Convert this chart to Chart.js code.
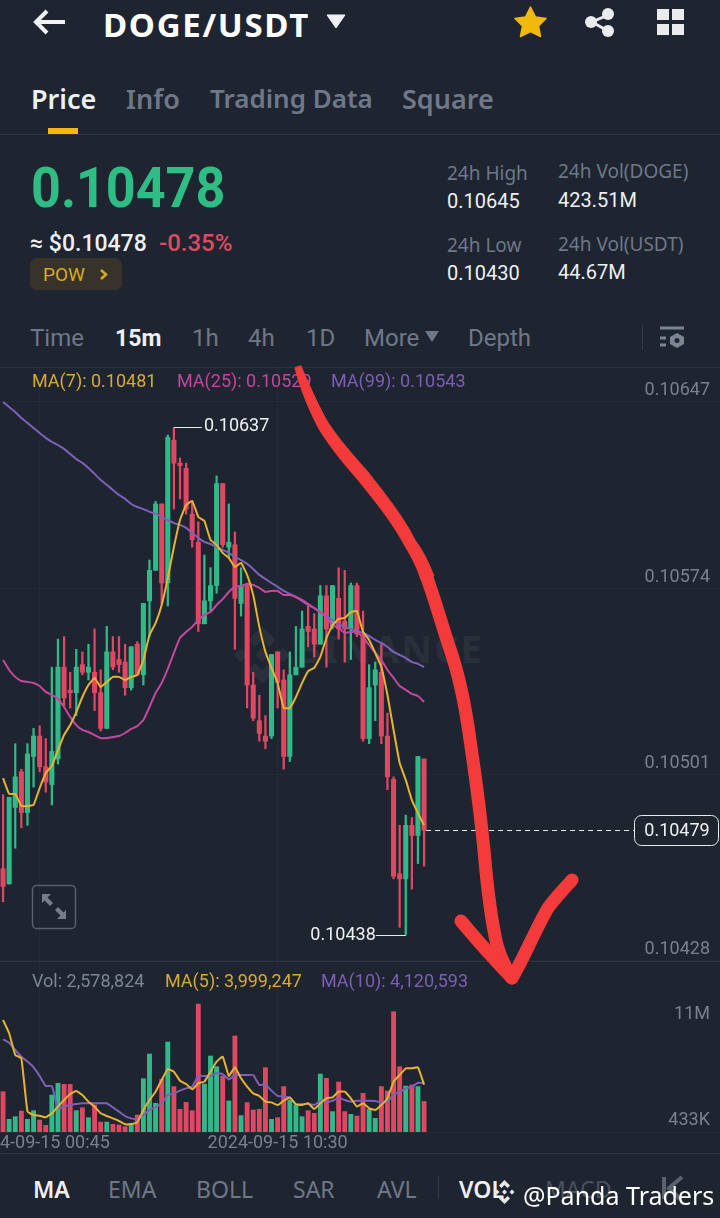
<!DOCTYPE html>
<html>
<head>
<meta charset="utf-8">
<title>DOGE/USDT</title>
<script src="https://cdn.jsdelivr.net/npm/chart.js@4/dist/chart.umd.min.js"></script>
<style>
  html, body { margin: 0; padding: 0; background: #1e2530; }
  #page { position: relative; width: 720px; height: 1218px; overflow: hidden; background: #1e2530; font-family: Roboto, sans-serif; }
  .t { position: absolute; white-space: nowrap; line-height: 1; transform: translateY(-50%); }
  .ui { font-family: "Noto Sans", sans-serif; }
  .line { position: absolute; left: 0; width: 720px; height: 1px; background: #2e343e; }
  .gray { color: #6f7888; }
  .white { color: #eef0f3; }
  #priceBox, #volumeBox { position: absolute; left: 0; width: 720px; }
  #priceBox { top: 367px; height: 594px; }
  #volumeBox { top: 961px; height: 193px; }
  #mark { position: absolute; left: 296px; top: 648px; color: #2a303b; font: 700 38px "Noto Sans", sans-serif; letter-spacing: 2px; transform: translateY(-50%); line-height: 1; }
  svg { position: absolute; overflow: visible; }
</style>
</head>
<body>
<div id="page">

  <!-- top bar -->
  <svg style="left:0;top:0" width="720" height="60">
    <path d="M37 22H65M47 11L36 22L47 33" fill="none" stroke="#f1f2f4" stroke-width="4"/>
    <path d="M327 15H345L336 28Z" fill="#eef0f3" stroke="#eef0f3" stroke-width="1" stroke-linejoin="round"/>
    <path d="M530.500 7L535.500 17L546 18.500L538.500 26L540.500 36.500L530.500 31.500L520.500 36.500L522.500 26L515 18.500L525.500 17Z" fill="#f0b90b" stroke="#f0b90b" stroke-width="1.500" stroke-linejoin="round"/>
    <path d="M608 15L592 22L608 31" fill="none" stroke="#e9ebef" stroke-width="3"/>
    <circle cx="608" cy="14" r="6" fill="#e9ebef"/><circle cx="591" cy="22" r="6" fill="#e9ebef"/><circle cx="608" cy="31" r="6" fill="#e9ebef"/>
    <path d="M657 9H669V20H657ZM672 9H684V20H672ZM657 24H669V35H657ZM672 24H684V35H672Z" fill="#e9ebef"/>
  </svg>
  <div class="t ui" style="left:103px;top:24px;font-size:33px;font-weight:700;letter-spacing:1.700px;color:#fff">DOGE/USDT</div>

  <!-- tabs -->
  <div class="t ui white" style="left:31px;top:98px;font-size:27px;font-weight:600">Price</div>
  <div class="t ui gray" style="left:126px;top:98px;font-size:27px;font-weight:600">Info</div>
  <div class="t ui gray" style="left:210px;top:98px;font-size:26px;font-weight:600">Trading Data</div>
  <div class="t ui gray" style="left:402px;top:98px;font-size:27px;font-weight:600">Square</div>
  <div style="position:absolute;left:48px;top:128px;width:30px;height:6px;background:#f0b90b"></div>
  <div class="line" style="top:134px"></div>

  <!-- quote block -->
  <div class="t" style="left:31px;top:188px;font-size:56px;font-weight:700;color:#2ebd85;transform:translateY(-50%) scaleX(0.93);transform-origin:left center">0.10478</div>
  <div class="t white" style="left:30px;top:243px;font-size:23px;font-weight:500">≈ $0.10478</div>
  <div class="t" style="left:159px;top:243px;font-size:24px;font-weight:500;color:#df4a63">-0.35%</div>
  <div style="position:absolute;left:30px;top:258px;width:92px;height:32px;border-radius:7px;background:#37332b"></div>
  <div class="t" style="left:43px;top:274px;font-size:19px;color:#d8aa24">POW</div>
  <svg style="left:0;top:0" width="720" height="300"><path d="M101 270L106 274.500L101 279" fill="none" stroke="#d8aa24" stroke-width="2.500"/></svg>

  <div class="t ui gray" style="left:447px;top:173px;font-size:19px">24h High</div>
  <div class="t white" style="left:447px;top:201px;font-size:20px">0.10645</div>
  <div class="t ui gray" style="left:447px;top:245px;font-size:19px">24h Low</div>
  <div class="t white" style="left:447px;top:273px;font-size:20px">0.10430</div>
  <div class="t ui gray" style="left:558px;top:171px;font-size:19px">24h Vol(DOGE)</div>
  <div class="t white" style="left:558px;top:200px;font-size:20px">423.51M</div>
  <div class="t ui gray" style="left:558px;top:244px;font-size:19px">24h Vol(USDT)</div>
  <div class="t white" style="left:558px;top:272px;font-size:20px">44.67M</div>

  <!-- interval bar -->
  <div class="t gray" style="left:30px;top:338px;font-size:24px">Time</div>
  <div class="t white" style="left:115px;top:338px;font-size:23px;font-weight:700">15m</div>
  <div class="t gray" style="left:192px;top:338px;font-size:24px">1h</div>
  <div class="t gray" style="left:248px;top:338px;font-size:24px">4h</div>
  <div class="t gray" style="left:306px;top:338px;font-size:24px">1D</div>
  <div class="t gray" style="left:364px;top:338px;font-size:24px">More</div>
  <div class="t gray" style="left:468px;top:338px;font-size:24px">Depth</div>
  <svg style="left:0;top:0" width="720" height="370">
    <path d="M425 331H439L432 342Z" fill="#6f7888"/>
    <path d="M642.500 325V350" stroke="#343a45" stroke-width="1"/>
    <path d="M660 328H684M660 338H666M660 345H666" stroke="#7c8594" stroke-width="3"/>
    <path d="M677 333L684 337V344L677 348L670 344V337Z" fill="#7c8594"/>
    <circle cx="677" cy="340.500" r="2.500" fill="#1e2530"/>
  </svg>
  <div class="line" style="top:367px"></div>

  <!-- charts -->
  <svg style="left:0;top:0" width="720" height="960">
    <path d="M262 626L276 640L269 647L262 640L255 647L248 640ZM241 648L248 655L241 662L234 655ZM283 648L290 655L283 662L276 655ZM262 648L269 655L262 662L255 655ZM248 670L255 663L262 670L269 663L276 670L262 684Z" fill="#2a303b"/>
  </svg>
  <div id="mark">BINANCE</div>
  <div id="priceBox"><canvas id="priceChart"></canvas></div>
  <div class="line" style="top:1132px;background:#272d38"></div>
  <div id="volumeBox"><canvas id="volumeChart"></canvas></div>
  <div class="line" style="top:961px"></div>
  <div class="line" style="top:1153px"></div>

  <div class="t" style="left:32px;top:381px;font-size:18px;color:#d8aa30" id="legend7"></div>
  <div class="t" style="left:177px;top:381px;font-size:18px;color:#c444a0" id="legend25"></div>
  <div class="t" style="left:331px;top:381px;font-size:18px;color:#7c5fb5" id="legend99"></div>

  <div class="t" style="left:32px;top:981px;font-size:18px;color:#7c8594" id="legendVol"></div>
  <div class="t" style="left:165px;top:981px;font-size:18px;color:#d8aa30" id="legendVol5"></div>
  <div class="t" style="left:321px;top:981px;font-size:18px;color:#7c5fb5" id="legendVol10"></div>

  <!-- expand button -->
  <svg style="left:0;top:0" width="720" height="960">
    <rect x="32.500" y="885.500" width="43" height="43" rx="4" fill="none" stroke="#59606d" stroke-width="1.500"/>
    <path d="M42 894H51L47.500 897.500L53 903L50 906L44.500 900.500L42 903ZM66 919H57L60.500 915.500L55 910L58 907L63.500 912.500L66 910Z" fill="#767e8b"/>
  </svg>

  <!-- indicator tabs -->
  <div class="t ui white" style="left:33px;top:1189px;font-size:23px;font-weight:600">MA</div>
  <div class="t ui gray" style="left:108px;top:1189px;font-size:23px">EMA</div>
  <div class="t ui gray" style="left:196px;top:1189px;font-size:23px">BOLL</div>
  <div class="t ui gray" style="left:293px;top:1189px;font-size:23px">SAR</div>
  <div class="t ui gray" style="left:377px;top:1189px;font-size:23px">AVL</div>
  <div class="t ui white" style="left:459px;top:1189px;font-size:23px;font-weight:600">VOL</div>
  <div class="t ui" style="left:545px;top:1189px;font-size:23px;color:#4a5160">MACD</div>
  <svg style="left:0;top:0" width="720" height="1218">
    <path d="M438.500 1176V1199" stroke="#343a45" stroke-width="1"/>
    <path d="M664 1177V1199M682 1177L669 1188L680 1199" fill="none" stroke="#5a6270" stroke-width="4"/>
  </svg>

  <!-- channel stamp -->
  <svg style="left:0;top:0" width="720" height="1218">
    <path d="M505.500 1180L511 1185.500L508.500 1188L505.500 1185L502.500 1188L500 1185.500ZM498 1189.500L500.500 1192L498 1194.500L495.500 1192ZM513 1189.500L515.500 1192L513 1194.500L510.500 1192ZM505.500 1189.500L508 1192L505.500 1194.500L503 1192ZM500 1198.500L502.500 1196L505.500 1199L508.500 1196L511 1198.500L505.500 1204Z" fill="#e9e9e9" transform="translate(-1 0)"/>
  </svg>
  <div class="t ui" style="left:523px;top:1195px;font-size:25px;color:#fff">@Panda Traders</div>

  <!-- hand drawn arrow -->
  <svg style="left:0;top:0" width="720" height="1218" fill="none" stroke="#f33b3b" stroke-linecap="round" stroke-linejoin="round">
    <path d="M295 368C300 388 309 410 319 429C332 450 346 466 358 480C376 502 394 525 405 546C413 559 418 570 421 580L434 576C429 564 424 552 415 540C403 516 385 494 368 472C354 456 340 441 327 421C316 401 308 382 301 366Z" fill="#f33b3b" stroke-width="1"/>
    <path d="M427 578C435 600 445 635 452 655C460 680 466 710 470 740C476 780 481 820 484 850C487 885 491 920 497 945C501 960 507 970 512 978" stroke-width="13"/>
    <path d="M461 921C475 938 495 960 512 978C524 958 535 930 548 908C556 897 565 888 572 880" stroke-width="13"/>
  </svg>
</div>

<script>
'use strict';

// ── DATA ─────────────────────────────────────────────────────

const TIMES = ['23:15','23:30','23:45','00:00','00:15','00:30','00:45','01:00','01:15','01:30','01:45','02:00','02:15','02:30','02:45','03:00','03:15','03:30','03:45','04:00','04:15','04:30','04:45','05:00','05:15','05:30','05:45','06:00','06:15','06:30','06:45','07:00','07:15','07:30','07:45','08:00','08:15','08:30','08:45','09:00','09:15','09:30','09:45','10:00','10:15','10:30','10:45','11:00','11:15','11:30','11:45','12:00','12:15','12:30','12:45','13:00','13:15','13:30','13:45','14:00','14:15','14:30','14:45','15:00','15:15','15:30','15:45','16:00','16:15','16:30'];
const DATE_LABEL = '2024-09-15';
const TIME_TICKS = [6, 45];

const OPENS = [0.10464,0.10458,0.10488,0.10502,0.10486,0.10508,0.10516,0.10504,0.10497,0.10507,0.10543,0.10534,0.10533,0.10544,0.10541,0.10541,0.10533,0.10519,0.10549,0.10546,0.10545,0.10535,0.10552,0.10540,0.10569,0.10581,0.10607,0.10576,0.10632,0.10623,0.10621,0.10603,0.10592,0.10560,0.10569,0.10575,0.10615,0.10590,0.10591,0.10568,0.10575,0.10536,0.10522,0.10516,0.10516,0.10549,0.10538,0.10508,0.10540,0.10543,0.10559,0.10558,0.10552,0.10571,0.10559,0.10570,0.10561,0.10558,0.10575,0.10556,0.10515,0.10536,0.10541,0.10516,0.10499,0.10462,0.10460,0.10481,0.10477,0.10507];
const HIGHS = [0.10493,0.10492,0.10513,0.10503,0.10513,0.10519,0.10520,0.10515,0.10543,0.10554,0.10555,0.10541,0.10550,0.10549,0.10552,0.10558,0.10542,0.10559,0.10555,0.10555,0.10552,0.10551,0.10553,0.10568,0.10585,0.10608,0.10607,0.10634,0.10637,0.10625,0.10623,0.10608,0.10600,0.10587,0.10582,0.10618,0.10615,0.10607,0.10596,0.10582,0.10576,0.10541,0.10532,0.10524,0.10548,0.10549,0.10542,0.10549,0.10559,0.10565,0.10567,0.10564,0.10575,0.10575,0.10575,0.10582,0.10581,0.10576,0.10576,0.10565,0.10544,0.10545,0.10552,0.10525,0.10500,0.10481,0.10485,0.10484,0.10508,0.10507];
const LOWS = [0.10451,0.10458,0.10472,0.10480,0.10481,0.10496,0.10502,0.10494,0.10489,0.10505,0.10528,0.10527,0.10524,0.10540,0.10538,0.10526,0.10518,0.10519,0.10542,0.10541,0.10532,0.10534,0.10540,0.10536,0.10555,0.10581,0.10568,0.10567,0.10605,0.10609,0.10603,0.10590,0.10557,0.10560,0.10565,0.10572,0.10590,0.10586,0.10550,0.10563,0.10527,0.10522,0.10514,0.10511,0.10515,0.10527,0.10503,0.10506,0.10540,0.10543,0.10551,0.10547,0.10552,0.10543,0.10558,0.10554,0.10545,0.10546,0.10555,0.10514,0.10513,0.10522,0.10513,0.10495,0.10460,0.10441,0.10438,0.10456,0.10466,0.10465];
const CLOSES = [0.10457,0.10492,0.10500,0.10486,0.10509,0.10516,0.10504,0.10498,0.10510,0.10543,0.10531,0.10533,0.10543,0.10541,0.10543,0.10533,0.10519,0.10549,0.10543,0.10544,0.10535,0.10551,0.10540,0.10568,0.10581,0.10607,0.10576,0.10633,0.10623,0.10622,0.10605,0.10593,0.10560,0.10569,0.10575,0.10615,0.10591,0.10592,0.10570,0.10575,0.10536,0.10523,0.10517,0.10514,0.10548,0.10537,0.10508,0.10540,0.10543,0.10558,0.10557,0.10552,0.10571,0.10558,0.10575,0.10558,0.10558,0.10575,0.10556,0.10515,0.10535,0.10542,0.10516,0.10500,0.10461,0.10460,0.10481,0.10477,0.10508,0.10479];

const MA7 = [0.104995,0.104933,0.104933,0.104886,0.104886,0.104890,0.104956,0.105015,0.105043,0.105105,0.105164,0.105203,0.105254,0.105313,0.105360,0.105388,0.105352,0.105372,0.105392,0.105392,0.105380,0.105392,0.105399,0.105458,0.105556,0.105603,0.105674,0.105780,0.105901,0.106007,0.106066,0.106082,0.106019,0.106003,0.105929,0.105909,0.105878,0.105858,0.105823,0.105839,0.105792,0.105713,0.105588,0.105490,0.105427,0.105368,0.105270,0.105270,0.105313,0.105368,0.105415,0.105427,0.105470,0.105545,0.105595,0.105619,0.105623,0.105646,0.105650,0.105568,0.105537,0.105486,0.105431,0.105321,0.105184,0.105054,0.104988,0.104909,0.104858,0.10481];
const MA25 = [0.105458,0.105419,0.105392,0.105376,0.105372,0.105368,0.105356,0.105333,0.105321,0.105305,0.105274,0.105235,0.105203,0.105184,0.105176,0.105164,0.105152,0.105152,0.105156,0.105160,0.105172,0.105188,0.105199,0.105223,0.105274,0.105329,0.105368,0.105423,0.105486,0.105545,0.105568,0.105588,0.105615,0.105635,0.105646,0.105674,0.105697,0.105725,0.105745,0.105748,0.105756,0.105752,0.105741,0.105725,0.105729,0.105729,0.105713,0.105713,0.105705,0.105694,0.105678,0.105662,0.105646,0.105627,0.105595,0.105584,0.105564,0.105568,0.105568,0.105548,0.105517,0.105486,0.105458,0.105419,0.105388,0.105356,0.105341,0.105325,0.105317,0.105294];
const MA99 = [0.106470,0.106450,0.106431,0.106407,0.106388,0.106368,0.106348,0.106329,0.106313,0.106301,0.106286,0.106266,0.106246,0.106231,0.106211,0.106188,0.106164,0.106145,0.106125,0.106105,0.106090,0.106070,0.106058,0.106050,0.106039,0.106031,0.106019,0.106007,0.105995,0.105988,0.105976,0.105956,0.105937,0.105921,0.105913,0.105901,0.105890,0.105878,0.105862,0.105850,0.105835,0.105815,0.105792,0.105776,0.105760,0.105745,0.105729,0.105717,0.105705,0.105690,0.105674,0.105662,0.105646,0.105631,0.105615,0.105599,0.105588,0.105580,0.105572,0.105564,0.105552,0.105537,0.105525,0.105509,0.105490,0.105478,0.105466,0.105450,0.105443,0.10543];

const VOLUMES = [3400000,1070000,1290000,1770000,1070000,1800000,1010000,560000,3120000,4110000,4020000,4020000,1800000,2050000,1210000,2280000,840000,840000,650000,590000,450000,650000,1430000,4500000,6580000,2420000,4440000,7590000,3830000,1910000,2500000,1800000,10800000,4050000,6410000,5510000,4730000,2620000,8100000,1380000,2480000,1860000,1910000,5430000,1070000,1210000,3830000,2700000,2280000,1290000,1800000,1580000,4890000,4530000,1720000,4220000,1720000,1490000,1350000,3260000,1910000,1150000,3830000,3460000,10150000,5510000,3880000,3970000,3830000,2578824];
const VOL_MA5 = [9450000,8330000,6500000,6220000,1720000,1430000,1380000,1240000,1580000,2140000,2700000,3210000,3460000,3120000,2560000,2140000,1580000,1350000,1150000,930000,650000,680000,820000,1860000,2700000,3400000,4390000,5320000,5090000,4330000,4050000,3600000,4110000,4250000,5090000,5940000,6360000,4730000,5460000,4530000,3830000,3260000,3040000,2560000,2500000,2280000,2640000,2900000,2330000,2280000,2420000,1940000,2420000,2840000,2930000,3400000,3400000,2840000,2140000,2420000,2000000,1860000,2280000,2840000,4250000,4810000,5370000,5370000,5460000,3999247];
const VOL_MA10 = [7820000,7540000,6920000,6360000,5940000,5460000,4730000,3880000,3880000,2000000,2140000,2280000,2360000,2420000,2420000,2420000,2420000,2420000,2080000,1720000,1350000,1150000,1070000,1430000,1860000,2080000,2420000,3120000,3260000,3490000,3680000,3830000,4730000,4730000,4730000,4950000,4890000,4440000,4810000,4810000,4810000,4810000,3970000,4020000,3490000,3040000,2980000,2930000,2330000,2360000,2360000,2280000,2620000,2560000,2640000,2900000,2700000,2560000,2640000,2640000,2640000,2620000,2480000,2560000,3180000,3350000,3680000,3830000,4160000,4120593];

const PRICE_TICKS = [0.10647, 0.10574, 0.10501, 0.10428];
const LAST_PRICE = 0.10479;
const VOL_TICK_TOP = 11000000;
const VOL_TICK_BOTTOM = 433000;

// room for future candles on the right of the last one
const SLOTS = 118;
const LABELS = TIMES.concat(Array(SLOTS - TIMES.length).fill(''));

// ── STYLE ────────────────────────────────────────────────────

const UP = '#32b98a';
const DOWN = '#df4763';
const GRID = '#252b36';
const AXIS_TEXT = '#7a818d';
const YELLOW = '#e6b332';
const MAGENTA = '#c4489f';
const PURPLE = '#7f60b8';
const candleColor = TIMES.map((_, i) => CLOSES[i] >= OPENS[i] ? UP : DOWN);

Chart.defaults.font.family = 'Roboto';

function maLine(label, data, color, width) {
  return {
    type: 'line', label, data, borderColor: color, borderWidth: width,
    pointRadius: 0, tension: 0.1, order: 1, yAxisID: 'y'
  };
}

// the side axes sit on top of the plot, so they get no room of their own
function flattenSideAxis(s) {
  s.width = 0;
  s.paddingTop = 0;
  s.paddingBottom = 0;
}

function timeAxis(showLabels) {
  return {
    grid: { color: GRID, drawTicks: false, offset: false },
    border: { display: false },
    afterBuildTicks: s => { s.ticks = s.ticks.filter(t => TIME_TICKS.includes(t.value)); },
    afterFit: s => { s.paddingLeft = 0; s.paddingRight = 0; s.height = showLabels ? 22 : 0; },
    ticks: {
      display: showLabels, autoSkip: false, maxRotation: 0, padding: 1,
      color: AXIS_TEXT, font: { size: 18 },
      callback: (v, i, ticks) => TIMES[ticks[i].value] ? `${DATE_LABEL} ${TIMES[ticks[i].value]}` : ''
    }
  };
}

// ── PRICE PANEL ──────────────────────────────────────────────

// leader labels for the extremes and the tag of the last price
const priceMarks = {
  id: 'priceMarks',
  afterDatasetsDraw(chart) {
    const { ctx, scales: { x, y } } = chart;
    const hi = Math.max(...HIGHS);
    const lo = Math.min(...LOWS);
    const hx = x.getPixelForValue(HIGHS.indexOf(hi));
    const lx = x.getPixelForValue(LOWS.indexOf(lo));
    const hy = Math.round(y.getPixelForValue(hi)) + 0.5;
    const ly = Math.round(y.getPixelForValue(lo)) + 0.5;
    const py = Math.round(y.getPixelForValue(LAST_PRICE)) + 0.5;

    ctx.save();
    ctx.strokeStyle = '#e8eaee';
    ctx.fillStyle = '#f0f1f3';
    ctx.lineWidth = 1;
    ctx.font = '18px Roboto';
    ctx.textBaseline = 'middle';

    ctx.beginPath();
    ctx.moveTo(hx, hy);
    ctx.lineTo(hx + 28, hy);
    ctx.moveTo(lx, ly);
    ctx.lineTo(lx - 30, ly);
    ctx.stroke();
    ctx.textAlign = 'left';
    ctx.fillText(hi.toFixed(5), hx + 30, hy - 1);
    ctx.textAlign = 'right';
    ctx.fillText(lo.toFixed(5), lx - 30, ly);

    // dashed line from the last candle to the tag
    ctx.setLineDash([5, 4]);
    ctx.beginPath();
    ctx.moveTo(x.getPixelForValue(TIMES.length - 1) + 2, py);
    ctx.lineTo(634, py);
    ctx.stroke();
    ctx.setLineDash([]);

    ctx.beginPath();
    ctx.roundRect(634.5, py - 15, 84, 30, 7);
    ctx.fillStyle = '#1e2530';
    ctx.fill();
    ctx.stroke();
    ctx.fillStyle = '#f0f1f3';
    ctx.textAlign = 'center';
    ctx.fillText(LAST_PRICE.toFixed(5), 677, py + 1);
    ctx.restore();
  }
};

function initPriceChart() {
  new Chart(document.getElementById('priceChart'), {
    data: {
      labels: LABELS,
      datasets: [
        maLine('MA(7)', MA7, YELLOW, 2),
        maLine('MA(25)', MA25, MAGENTA, 2),
        maLine('MA(99)', MA99, PURPLE, 2),
        {
          type: 'bar', label: 'Body', order: 2, grouped: false, barThickness: 4.4,
          data: TIMES.map((_, i) => [OPENS[i], CLOSES[i]]),
          backgroundColor: candleColor
        },
        {
          type: 'bar', label: 'Wick', order: 3, grouped: false, barThickness: 1.6,
          data: TIMES.map((_, i) => [LOWS[i], HIGHS[i]]),
          backgroundColor: candleColor
        }
      ]
    },
    options: {
      responsive: true, maintainAspectRatio: false, animation: false,
      layout: { padding: 0 },
      plugins: { legend: { display: false }, tooltip: { enabled: false } },
      scales: {
        x: timeAxis(false),
        y: {
          position: 'right', min: 0.104278, max: 0.106607,
          grid: { color: GRID, drawTicks: false },
          border: { display: false },
          afterBuildTicks: s => { s.ticks = PRICE_TICKS.map(value => ({ value })); },
          afterFit: flattenSideAxis,
          ticks: {
            mirror: true, padding: -10, labelOffset: -11,
            color: AXIS_TEXT, font: { size: 18 },
            callback: v => v.toFixed(5)
          }
        }
      }
    },
    plugins: [priceMarks]
  });
}

// ── VOLUME PANEL ─────────────────────────────────────────────

function volumeAxis(tick, offset) {
  return {
    position: 'right', min: 0, max: 14430000, display: true,
    grid: { display: false },
    border: { display: false },
    afterBuildTicks: s => { s.ticks = [{ value: tick }]; },
    afterFit: flattenSideAxis,
    ticks: {
      mirror: true, padding: -10, labelOffset: offset,
      color: AXIS_TEXT, font: { size: 18 },
      callback: v => v >= 1000000 ? `${Math.round(v / 1000000)}M` : `${Math.round(v / 1000)}K`
    }
  };
}

function initVolumeChart() {
  new Chart(document.getElementById('volumeChart'), {
    data: {
      labels: LABELS,
      datasets: [
        maLine('MA(5)', VOL_MA5, YELLOW, 2),
        maLine('MA(10)', VOL_MA10, PURPLE, 2),
        {
          type: 'bar', label: 'Vol', order: 2, barThickness: 4.2,
          data: VOLUMES, backgroundColor: candleColor
        }
      ]
    },
    options: {
      responsive: true, maintainAspectRatio: false, animation: false,
      layout: { padding: 0 },
      plugins: { legend: { display: false }, tooltip: { enabled: false } },
      scales: {
        x: timeAxis(true),
        y: volumeAxis(VOL_TICK_TOP, 13),
        y2: volumeAxis(VOL_TICK_BOTTOM, -6)
      }
    }
  });
}

// ── LEGENDS ──────────────────────────────────────────────────

function setLegend(id, text) {
  document.getElementById(id).textContent = text;
}

function last(list) {
  return list[list.length - 1];
}

// ── INIT ─────────────────────────────────────────────────────

setLegend('legend7', `MA(7): ${last(MA7).toFixed(5)}`);
setLegend('legend25', `MA(25): ${last(MA25).toFixed(5)}`);
setLegend('legend99', `MA(99): ${last(MA99).toFixed(5)}`);
setLegend('legendVol', `Vol: ${last(VOLUMES).toLocaleString('en-US')}`);
setLegend('legendVol5', `MA(5): ${last(VOL_MA5).toLocaleString('en-US')}`);
setLegend('legendVol10', `MA(10): ${last(VOL_MA10).toLocaleString('en-US')}`);

initPriceChart();
initVolumeChart();
</script>
</body>
</html>
